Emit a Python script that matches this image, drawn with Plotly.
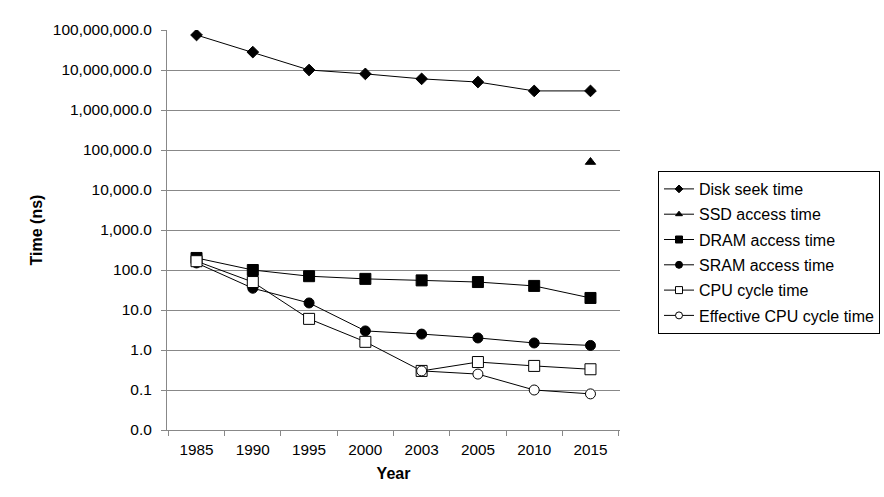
import plotly.graph_objects as go

years = ["1985", "1990", "1995", "2000", "2003", "2005", "2010", "2015"]
disk_seek = [75000000, 28000000, 10000000, 8000000, 6000000, 5000000, 3000000, 3000000]
ssd_access = [None, None, None, None, None, None, None, 50000]
dram_access = [200, 100, 70, 60, 55, 50, 40, 20]
sram_access = [150, 35, 15, 3, 2.5, 2, 1.5, 1.3]
cpu_cycle = [166, 50, 6, 1.6, 0.30, 0.50, 0.40, 0.33]
eff_cpu_cycle = [None, None, None, None, 0.30, 0.25, 0.10, 0.08]

series = [
    ("Disk seek time", disk_seek, "diamond", "black", 9, 6),
    ("SSD access time", ssd_access, "triangle-up", "black", 9, 6),
    ("DRAM access time", dram_access, "square", "black", 11, 7),
    ("SRAM access time", sram_access, "circle", "black", 10, 7),
    ("CPU cycle time", cpu_cycle, "square", "white", 11, 7),
    ("Effective CPU cycle time", eff_cpu_cycle, "circle", "white", 10, 7),
]

fig = go.Figure()
for i, (name, vals, sym, fill, size, lsize) in enumerate(series):
    fig.add_trace(go.Scatter(
        x=years, y=vals, name=name, mode="lines+markers",
        line=dict(color="black", width=1),
        marker=dict(symbol=sym, color=fill, size=size,
                    line=dict(color="black", width=1)),
        connectgaps=False, showlegend=False, legendgroup="g%d" % i,
    ))
for i, (name, vals, sym, fill, size, lsize) in enumerate(series):
    fig.add_trace(go.Scatter(
        x=[years[0]], y=[None], name=name, mode="lines+markers",
        line=dict(color="black", width=1),
        marker=dict(symbol=sym, color=fill, size=lsize,
                    line=dict(color="black", width=1)),
        showlegend=True, legendgroup="g%d" % i, hoverinfo="skip",
    ))

font = "Liberation Sans, Arial, sans-serif"
fig.update_layout(
    width=884, height=497,
    margin=dict(l=167, r=264, t=30, b=67),
    paper_bgcolor="white", plot_bgcolor="white",
    font=dict(family=font, size=15, color="black"),
    showlegend=True,
    legend=dict(
        xref="container", yref="container",
        x=658 / 884, y=1 - 171 / 497, xanchor="left", yanchor="top",
        bordercolor="black", borderwidth=1,
        font=dict(family=font, size=16, color="black"),
        itemwidth=30, tracegroupgap=1.5,
    ),
    xaxis=dict(
        type="category", automargin=False,
        title=dict(text="<b>Year</b>", font=dict(size=16), standoff=10),
        showgrid=False,
        showline=True, linecolor="#888888", linewidth=1,
        ticks="outside", tickson="boundaries", ticklen=5, tickcolor="#888888",
        ticklabelstandoff=6,
        tickfont=dict(size=15.3),
    ),
    yaxis=dict(
        type="log", range=[-2, 8], dtick=1, automargin=False,
        tickformat=",.1f",
        title=dict(text="<b>Time (ns)</b>", font=dict(size=16), standoff=6),
        showgrid=True, gridcolor="#888888", gridwidth=1,
        showline=True, linecolor="#888888", linewidth=1,
        ticks="outside", ticklen=5, tickcolor="#888888",
        ticklabelstandoff=6,
        tickfont=dict(size=15.5),
        zeroline=False,
    ),
)

fig.write_html("out.html", config={"displayModeBar": False},
               post_script="document.body.style.margin='0px';")
